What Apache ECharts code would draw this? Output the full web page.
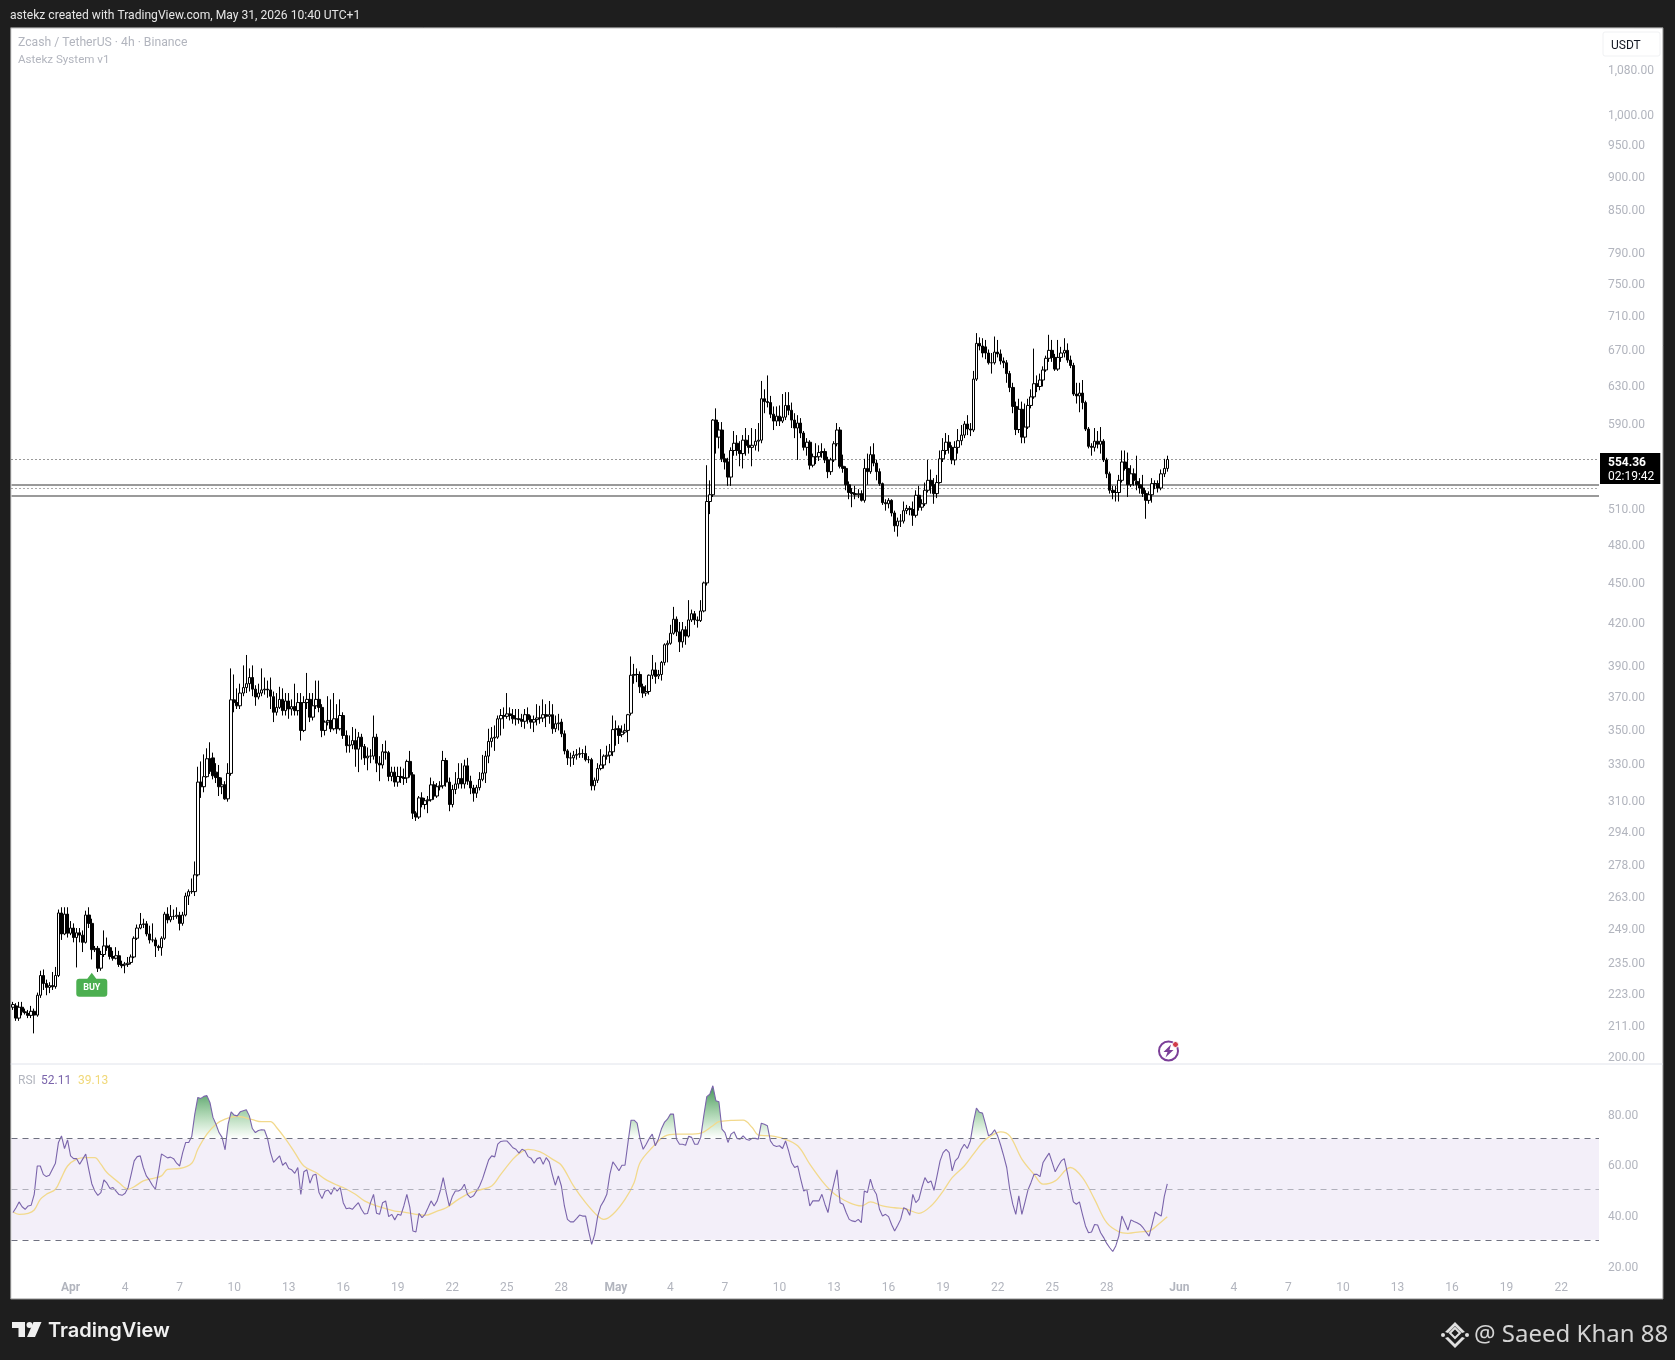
<!DOCTYPE html>
<html>
<head>
<meta charset="utf-8">
<title>Zcash / TetherUS 4h</title>
<script src="https://cdn.jsdelivr.net/npm/echarts@6/dist/echarts.min.js"></script>
<style>html,body{margin:0;padding:0;background:#1e1e1e}#c{width:1675px;height:1360px}</style>
</head>
<body>
<div id="c"></div>
<script>
// 4h candles, each row: open, close, low, high (USDT)
const ohlc = [
[217.5,218.5,216.5,219.5],[218,213.5,212.5,219],[213.5,217.5,212.5,219.5],[217.5,215.8,214.5,219.5],[215.8,215.5,214.8,217],
[215.2,214.5,213.5,216.5],[214.5,216,213.5,218],[216,214.6,208,217],[214.6,222,214,223],[222,229.6,221,231.5],
[229.6,226.5,224,232],[226.5,225,222,228],[225,225.7,222.8,227],[225.7,225.2,224,231],[225.3,229.6,224.5,233],
[229.6,255.5,229,257],[255.5,246.5,244,258],[246.5,255,246,258],[255,246.8,245,258],[246.8,249,246,252],
[249,245,243,251],[245,247,232.8,249],[247,246,243,249],[246,243,239,248],[243,254.6,242.5,256.5],
[254.6,251,249,258],[251,240,236,253],[240,240.5,239,241.5],[240.5,232.5,231,241.5],[232.5,238,231.5,239.5],
[238,241.5,237,248],[241.5,240.8,239.5,245],[240.8,237.2,236,242],[237.2,236.5,235.5,239.5],[236.5,237.5,236,241],
[237.5,234,233,239.5],[234,233.5,232.5,235.5],[233.8,234.2,230.5,235],[234,234.5,233,237],[234.8,237,234,238],
[237,244.7,236.5,245.5],[244.7,249,244,250.5],[249,250.5,248.5,255.5],[250.5,250.8,249,253],[250.8,246.5,245.5,252],
[246.5,244,242.5,250],[244,244,243,251],[244,241.5,237,245],[241.3,240.8,239.5,242],[240.8,244.7,237.5,245.5],
[244.7,255,244,256],[255,252.5,251,258],[252.5,254,251.5,259],[254,254,252.5,257],[254,254.5,253,258],
[254.5,251,248,256],[251,254.6,250,256],[254.6,263,254,264.5],[263,265,259,266],[265,265,264,271],
[265,272.7,263,279],[272.7,319.5,272,328],[319.5,317,311,331],[317,322.5,314,335],[322.5,332.5,322,338.5],
[332.5,325.5,324,342],[333,323,321,336],[325,322,319,330],[322,317,312,329],[317,318,313,322],
[318,310.5,310,320],[310.5,324.3,309,330],[324.3,367.7,323,388],[367.7,366,360,384],[366,364,362,375],
[364,372,362,378],[372,375.5,370,390],[375.5,378,372,397],[378,382,373,388],[382,374.5,370,390],
[374.5,369.5,364,377],[369.5,372,368,378],[372,374,370,388],[374,374.5,371,382],[374.5,374,369,380],
[374,370,362,382],[369.7,360,354,373],[360,363,358,372],[363,368,362,376],[368,361,358,375],
[361,367,358,372],[367,362,356,372],[362,363.5,358,368],[363.5,361,358,378],[361,366,358,372],
[366,349,343,372],[349,366,348,370],[366,368,362,385],[368,357,354,372],[357,364,355,372],
[364,368,362,380],[368,363,360,380],[363,349,345,365],[349,354,346,355],[354,355,352,370],
[355,350,348,368],[350,356,349,372],[356,350,347,365],[350,358,349,368],[358,346,344,360],
[346,340,336,349],[340,340.5,336,346],[340.5,343,338,351],[343,338,328,350],[338,345,325,348],
[345,339.5,332,347],[339.5,333,329,341],[333,334,326,339],[334,334,330,338],[334,345,332,358],
[345,330,325,347],[330,329,320,334],[329,336.5,327,341],[336.5,336,332,343],[336,322.6,320,337],
[322.6,325,320,328],[325,319.5,317,328],[319.5,322.6,317,328],[322.6,322,319,328],[322,321.5,318,327],
[321.8,331,319,332],[331,323.5,322,337],[323.5,303,300,325],[303,301,299,304],[301,311,300,312],
[311,307.5,306,314],[307.5,309.5,305,311],[309.5,310,303,312],[310,318,309,322],[318,312,310,320],
[312,317,311,319],[317,317.5,315,320],[317.5,331.5,316,337],[331.5,319.5,317,333],[319.5,307.5,304,322],
[307.5,315.5,306,318],[315.5,318.5,313,325],[318.5,321.5,316,330],[321.5,318.5,316,330],[318.5,328.5,316,332],
[328.5,320,318,333],[320,316.3,313,323],[316.3,313.5,309,318],[313.5,316.5,311,318],[316.5,321,315,325],
[321,324.5,320,334.7],[324.5,334,319,337],[334,342.5,330,350],[342.5,344.5,339,351],[344.5,345,337,352],
[345,356,344,358],[356,358,346,362],[358,357.5,350,363],[357.5,359,356,372],[359,358,355,363],
[358,356,353,362],[356,356,352,362],[356,355.5,353,362],[355.5,354.5,351,359],[354.5,358.5,350,362],
[358.5,355.5,353,363],[355.5,354,350,358],[354,355.5,348,358],[355.5,356.5,352,365],[356.5,356.5,353,364],
[356.5,358.5,354,368],[358.5,357.5,351,365],[357.5,358.5,353,367],[358.5,350,347,365],[350,353,348,358],
[353,353.5,349,359],[354,347,345,356],[347,337,335,349],[337,333,329,338],[333,333,328,336],
[333,334.5,329,337],[334.5,335,332,338],[335,335.5,333,339],[335.5,335.5,333,338],[335.5,332,331,340],
[332,332,330,334],[332,317.5,315,333],[317.5,320.5,315,322],[320.5,327,319,330],[327,329,326,338],
[329,334,327,335],[334,334.5,332,340],[334.5,336.5,330,341],[336.5,349.5,334,358],[349.5,350,340,355],
[350,346,341,352],[346.5,348,345,352],[348,349,347,353],[349,358.5,342,359],
[359.4,383.5,358,396],[383.5,384,378,391],[384,384,379,388],[384,376,372,386],[376,372,369,378],
[372,373,370,377],[373,383.5,371,384],[383.5,387,381,397],[387,382.7,378,392],[383,384,381,387],
[384,392,380,393],[392,404,390,405],[404,405,392,407],[405,412,404,418],[412,422,411,431],
[422,413,410,424],[413,406,399,420],[406,414.5,402,420],[414.5,410,404,417],[410,421.5,409,436],
[421.5,426,420,429],[426,421.5,418,428],[421.5,421,416,424],[421,428,420,436],[428,449,427,450],
[449,516,447,549],[516,522,505,535],[522,593,520,594],
[593,576,560,605],[576,583,565,591],[583,555,552,591],[555,552,545,560],[552,538,530,556],
[538,563,530,566],[563,570,558,582],[570,563,558,578],[563,560,548,572],[560,573,546,578],
[573,568,558,585],[568,566,560,578],[566,568,548,585],[568,572,563,584],[572,573,562,590],
[573,615,570,634],[615,612,600,625],[612,611,606,640],[611,599,595,618],[599,592,583,607],
[592,597,587,607],[597,592,587,608],[592,596,590,620],[596,608,593,622],[608,603,598,622],
[603,593,585,611],[593,585,575,600],[585,590,554,598],[590,580,575,595],[580,566,563,582],
[566,571,558,575],[571,549,545,573],[549,557,547,560],[557,557,550,570],[557,561,553,568],
[561,562,556,570],[562,554,551,565],[554,543,537,557],[543,554,540,556],[554,569.5,552,572],
[569.5,583,567,590],[583,548,546,586],[548,546,542,559],[546,531,526,548],[531,524,518,534],
[524,523,511,528],[523,522,518,530],[522,523,519,527],[523,517,516,526],[517,546,515,555],
[546,543,531,560],[543,559,541,567],[559,551,548,570],[551,543,535,554],[543,532,530,546],
[532,515,513,533],[515,514,508,518],[514,517,510,519],[517,506,503,518],[506,495,490,508],
[495,499,486,502],[499,499,494,505],[499,508,497,516],[508,510,505,513],[510,509,504,512],
[509,504,495,516],[504,521.5,502,526],[521.5,511,508,530],[511,514,508,518],[514,526,512,533],
[526,535,524,554],[535,530,523,545],[531,523,514,537],[523,533,519,540],
[533,555,532,563],[555,563,552,575],[563,571,559,580],[571,566,560,578],[566,554,550,568],
[554,566,549,572],[566,572.5,560,584],[572.5,578,568,588],[578,589,575,592],[589,584,578,598],
[584,583,577,590],[583,636,581,645],[636,676,634,688],[676,673,668,683],[673,665,660,682],
[672,665,658,680],[665,654,652,669],[654,654,642,665],[654,666,652,684],[666,664,660,680],
[664,656,652,669],[656,654,648,660],[654,642,632,657],[642,627,622,645],[627,607,600,632],
[607,583.5,578,612],[583.5,604,580,615],[604,576,570,612],[576,586,570,610],[586,608,584,615],
[608,617,605,625],[617,631,615,670],[631,628,622,640],[628,635,624,642],[635,646,628,650],
[646,659,644,662],[659,668,655,686],[668,660,655,680],[660,647,645,664],[647,660,645,680],
[660,665,655,672],[665,668,660,682],[668,657,654,676],[657,651,648,662],[651,620,618,654],
[620,618,610,632],[618,621,601,632],[621,611,604,635],[611,584,582,613],[584,567,565,586],
[567,566,558,570],[566,572,562,585],[572,569,565,582],[569,572,560,586],[572,554,552,574],
[554,541,537,556],[541,526,523,543],[526,524,518,530],[524,524,516,530],[524,535,516,540],
[535,552,533,563],[552,546,544,563],[546,531,520,561],[531,541,529,549],[541,535,530,546],
[534,531,526,558],[531,528,523,537],[528,523,520,540],[523,517,501,526],[517,522,514,525],
[522,532,515,537],[532,532,527,535],[532,528,524,535],[528,541,526,545],[541,546,538,555],[546,554.36,543,558]
];

// RSI (14) per bar, then its smoothing line read at [bar, value] points
const rsiValues = [
40.8,42.7,45,43.1,42.1,43.4,43.7,48,59.2,59.2,55.9,55,55.5,57.9,60.3,68.5,71.1,66.1,69.5,63.2,
62.1,62.1,59.9,61.9,63.9,57.9,52.2,49.3,47.6,48.7,53.7,52.4,50.3,50.7,49.3,47.9,47.6,48.4,50.7,55.9,
61.2,62.9,63.2,58.6,55.3,53.7,51.6,50,56.6,63.9,63.2,62.4,62.7,62.1,60.3,59.2,64.5,68.5,68.5,70.9,
79.7,86.3,85.9,86.7,87,84.3,78.4,75.7,72.4,70.5,65.6,75.7,80.6,79.3,79,80.6,81,81.4,79,74,
72.4,73.2,73.5,73.4,70.1,64.5,60.6,61.9,63.2,59.5,60.6,58.2,57.7,56.3,58.6,48,56.9,57.7,52.4,55.5,
55.9,48.7,46.3,49.2,49.7,48,50.7,49.3,50.7,44.7,42.3,42.6,42.1,43.4,44.7,42.1,40.2,40.4,44.7,48,
40.5,40.1,44.7,45.4,39.2,40.1,37.9,40.1,39.7,43.4,48,42.7,33.5,33.1,40.5,38.8,40.1,42.7,45.4,43.4,
45.4,49.3,54.6,48.7,43.4,47.1,49.3,49.3,50,52,48,46.7,47.4,49.3,51.3,54.2,57.9,61.6,63.2,62.8,
67.8,68.9,69.1,69.1,67.8,66.4,65.8,64.3,65.8,65.2,62.9,62.3,60.3,62.1,62.5,59.9,62.5,60.8,55.9,51.6,55.3,
51.3,43.4,38.1,37.1,37.1,38.4,39.8,39.4,39.4,33.5,
28.2,32.2,39.4,43.4,45.4,48,55.9,60.8,59.2,57.3,59.5,59.5,68.5,77.3,77.3,76.1,69.8,65.8,67.8,70.1,
71.8,67.2,69.8,73.8,76.4,77.7,79.7,79.7,69.8,67.8,67.8,67.4,70.9,70.5,67.8,67.8,70.5,79,86.6,87.6,
90.9,85,84.6,73.8,72.4,68.5,71.8,72.7,70.1,69.8,71.1,69.8,69.4,70.1,70.1,69.8,76.1,75.7,75.1,69.1,
67.4,66.9,67.2,66.1,69.1,65.2,60.6,58.6,59.2,54,49.3,50,43.4,45.4,45.4,45.4,48,44.1,40.8,47.4,
52.6,57.7,44.7,44.1,40.8,38.1,37.5,37.2,38.1,36.8,49.3,48.7,54,50,48,42.1,39.4,40.1,39.2,36.1,
33.5,35.7,38.1,42.7,42.1,39.7,48,44.7,46,50.7,54.6,52.6,53.3,49.6,55.3,61.2,64.5,65.8,64.5,57.3,
61.2,62.5,65.8,67.8,66.1,69.1,76.4,82.1,80.4,80.1,75.7,71.1,71.8,73.5,71.1,67.4,63.2,58.6,50,44.1,
40.1,47.4,40.1,44.7,49.7,52.6,55.9,55.9,55,60.6,62.5,64.3,60.6,56.9,59.2,61.2,62.1,56.6,50.7,45,
44.1,45,40.1,35.5,32.8,33.1,36.1,35.9,32.8,30.9,28.6,26.9,25.4,27.6,31.5,39.4,36.8,33.9,37.9,37.3,
36.8,36.1,34.8,33.1,31.5,36.1,41,40.1,39.4,47.1,52.11
];
const rsiMa = [
[0,41],[2,40.1],[5,40.5],[7,41.8],[9,46],[11,48],[14,50],[16,54.6],[18,59.2],[21,61.9],[24,62.5],[27,62.5],[29,59.9],[31,56.6],[35,52.6],[38,50],
[40,51],[43,53.3],[46,54.2],[49,55.3],[51,57.9],[55,58.2],[59,60.3],[61,65.8],[64,71.8],[67,75.7],[70,77.7],[74,78.8],[79,77.5],[82,76.7],[85,76.7],
[87,74.4],[90,69.8],[93,64.5],[96,59.2],[100,56.6],[103,54],[107,51.6],[109,50.7],[113,48],[116,45.4],[120,43.4],[126,41.4],[129,41],[133,40.1],[136,39.7],
[140,41.4],[143,42.7],[147,46],[151,48.7],[154,49.7],[158,51.3],[161,55.9],[165,61.9],[167,64.1],[170,65.8],[174,64.8],[178,61.9],[181,59.5],
[185,51.3],[189,44.7],[193,39.4],[195,38.1],[198,40.1],[202,46],[205,52.6],[207,60.6],[211,66.5],[215,70.9],[219,71.8],[223,71.8],[227,72.2],[231,75.1],
[233,76.7],[237,77.2],[241,77.3],[244,74.4],[246,71.4],[250,71.1],[254,70.1],[259,67.2],[263,59.9],[267,53.3],[270,49.3],[272,47.4],[276,44.7],[280,43.4],
[283,45],[287,43.4],[291,42.7],[295,42.1],[299,40.5],[303,43.4],[307,49.3],[310,54.6],[314,59.2],[317,63.9],[320,68.5],[322,70.5],[326,72.7],[329,71.1],
[333,61.9],[337,55.9],[340,52],[344,53.3],[349,58.6],[353,54.6],[357,46],[361,36.8],[365,33.2],[368,32.6],[372,33.2],[375,33.5],[378,36.1],[381,39.13]
];

// price axis and RSI axis labels, horizontal levels
const priceTicks = [200,211,223,235,249,263,278,294,310,330,350,370,390,420,450,480,510,590,630,670,710,750,790,850,900,950,1000,1080];
const rsiTicks = [20,40,60,80];
const lastPrice = 554.36;
const solidLevels = [531,521.2];
const dottedLevels = [528];
const rsiBands = [70,50,30];

// time axis: slot number of each label (4h slots starting Mar 28 20:00)
const slotCount = 524;
const timeTickSlots = [19,37,55,73,91,109,127,145,163,181,199,217,235,253,271,289,307,325,343,361,385,403,421,439,457,475,493,511];
const timeTickText = ['Apr','4','7','10','13','16','19','22','25','28','May','4','7','10','13','16','19','22','25','28','Jun','4','7','10','13','16','19','22'];
const slots = Array.from({length: slotCount}, (_, i) => String(i));

const PL = 10.7, PR = 1663, PT = 27.8, PB = 1299, SCALE_X = 1599, MAIN_B = 1064, RSI_B = 1271;
const CHART_L = 11.5;
const axisGrey = '#b2b5be';
const fontFam = 'Roboto, sans-serif';

function priceFmt(v){
  const n = Math.round(v);
  return '{a|' + n.toLocaleString('en-US',{minimumFractionDigits:2,maximumFractionDigits:2}) + '}';
}

const chart = echarts.init(document.getElementById('c'), null, {renderer:'canvas'});
chart.setOption({
  animation:false,
  backgroundColor:'#1e1e1e',
  textStyle:{fontFamily:fontFam},
  grid:[
    {left:CHART_L, top:PT, width:SCALE_X-CHART_L, height:MAIN_B-PT},
    {left:CHART_L, top:MAIN_B, width:SCALE_X-CHART_L, height:RSI_B-MAIN_B}
  ],
  xAxis:[
    {type:'category', gridIndex:0, data:slots, boundaryGap:true,
     axisLine:{show:false}, axisTick:{show:false}, axisLabel:{show:false}, splitLine:{show:false}},
    {type:'category', gridIndex:1, data:slots, boundaryGap:true,
     axisLine:{show:false}, axisTick:{show:false}, splitLine:{show:false},
     axisLabel:{show:true, margin:11, color:axisGrey, fontSize:12, hideOverlap:false,
       interval:function(i){return timeTickSlots.indexOf(i)>=0;},
       formatter:function(v,i){
         const t = timeTickText[timeTickSlots.indexOf(Number(v))] || '';
         return /[A-Za-z]/.test(t) ? '{m|'+t+'}' : t;
       },
       rich:{m:{color:axisGrey,fontSize:12,fontWeight:'bold'}}
     }}
  ],
  yAxis:[
    {type:'log', logBase:10, gridIndex:0, position:'right', min:197.4, max:1159, scale:true,
     axisLine:{show:false}, axisTick:{show:false}, splitLine:{show:false}, minorTick:{show:false}, minorSplitLine:{show:false},
     axisLabel:{show:true, inside:false, margin:9, color:axisGrey, fontSize:12, customValues:priceTicks, formatter:priceFmt, showMinLabel:true, showMaxLabel:true,
       rich:{a:{color:axisGrey,fontSize:12,lineHeight:14,padding:[4,0,0,0]}}}},
    {type:'value', gridIndex:1, position:'right', min:17.7, max:99.5,
     axisLine:{show:false}, axisTick:{show:false}, splitLine:{show:false},
     axisLabel:{show:true, margin:9, color:axisGrey, fontSize:12, customValues:rsiTicks, formatter:function(v){return '{a|'+v.toFixed(2)+'}';},
       rich:{a:{color:axisGrey,fontSize:12,lineHeight:14,padding:[5,0,0,0]}}}}
  ],
  series:[
    {type:'candlestick', name:'ZECUSDT', xAxisIndex:0, yAxisIndex:0, data:ohlc, barWidth:3, z:3,
     itemStyle:{color:'#ffffff', color0:'#000000', borderColor:'#000000', borderColor0:'#000000', borderWidth:1},
     markLine:{silent:true, symbol:'none', z:1, animation:false,
       data:[
         ...solidLevels.map(v=>({yAxis:v, lineStyle:{color:'#9a9a9a', width:2, type:'solid'}, label:{show:false}})),
         ...dottedLevels.map(v=>({yAxis:v, lineStyle:{color:'#555555', width:1, type:[1,3]}, label:{show:false}})),
         {yAxis:lastPrice, lineStyle:{color:'#333333', width:1, type:[1,3]},
          label:{show:true, position:'end', distance:1, formatter:'{p|'+lastPrice.toFixed(2)+'}\n{t|02:19:42}',
            backgroundColor:'#000000', padding:[3,6,0,8], offset:[0,9], align:'left',
            rich:{p:{color:'#ffffff',fontSize:12,fontWeight:'bold',lineHeight:14,fontFamily:fontFam},
                  t:{color:'#ffffff',fontSize:12,lineHeight:14,fontFamily:fontFam}}}}
       ]},
     markPoint:{silent:true, animation:false,
       data:[{coord:[26,230.7], value:'BUY',
         symbol:'path://M15.5,0 L20,6 L28,6 Q31,6 31,9 L31,21 Q31,24 28,24 L3,24 Q0,24 0,21 L0,9 Q0,6 3,6 L11,6 Z',
         symbolSize:[31,24], symbolOffset:[0,12], symbolKeepAspect:false,
         itemStyle:{color:'#4caf50'},
         label:{show:true, formatter:'BUY', position:'inside', offset:[0,3], color:'#ffffff', fontSize:9, fontWeight:'bold', fontFamily:fontFam}}]}
    },
    {type:'line', name:'RSI zone', xAxisIndex:1, yAxisIndex:1, data:rsiValues.map(v=>Math.max(v,70)), showSymbol:false, symbol:'none', silent:true, z:2,
     lineStyle:{width:0},
     areaStyle:{origin:70, opacity:1,
       color:{type:'linear',x:0,y:0,x2:0,y2:1,colorStops:[{offset:0,color:'rgba(56,142,80,0.95)'},{offset:1,color:'rgba(76,175,80,0)'}]}}},
    {type:'line', name:'RSI', xAxisIndex:1, yAxisIndex:1, data:rsiValues, showSymbol:false, symbol:'none', silent:true, z:4,
     lineStyle:{color:'#7a64ab', width:1.1},
     markArea:{silent:true, itemStyle:{color:'rgba(126,87,194,0.095)'}, data:[[{yAxis:rsiBands[2]},{yAxis:rsiBands[0]}]]},
     markLine:{silent:true, symbol:'none', animation:false, label:{show:false},
       data:[
         {yAxis:rsiBands[0], lineStyle:{color:'#6f7180', width:1, type:[6,5]}},
         {yAxis:rsiBands[1], lineStyle:{color:'#b0b0bb', width:1, type:[6,5]}},
         {yAxis:rsiBands[2], lineStyle:{color:'#6f7180', width:1, type:[6,5]}}
       ]}},
    {type:'line', name:'RSI MA', xAxisIndex:1, yAxisIndex:1, data:rsiMa, showSymbol:false, symbol:'none', silent:true, z:3, smooth:0.35,
     lineStyle:{color:'#f2d98c', width:1.3}}
  ],
  graphic:[
    {type:'rect', z:-10, silent:true, shape:{x:PL,y:PT,width:PR-PL,height:PB-PT}, style:{fill:'#ffffff', stroke:'#8d8d8d', lineWidth:1}},
    {type:'line', z:-9, silent:true, shape:{x1:PL,y1:MAIN_B,x2:PR,y2:MAIN_B}, style:{stroke:'#e0e3eb', lineWidth:1}},
    {type:'text', silent:true, style:{x:10,y:16,text:'astekz created with TradingView.com, May 31, 2026 10:40 UTC+1',fill:'#e6e6e6',font:'12.1px '+fontFam,textVerticalAlign:'middle'}},
    {type:'text', silent:true, style:{x:18,y:43,text:'Zcash / TetherUS · 4h · Binance',fill:axisGrey,font:'12.2px '+fontFam,textVerticalAlign:'middle'}},
    {type:'text', silent:true, style:{x:18,y:60,text:'Astekz System v1',fill:axisGrey,font:'11.6px '+fontFam,textVerticalAlign:'middle'}},
    {type:'text', silent:true, style:{x:18,y:1081,text:'RSI',fill:axisGrey,font:'12px '+fontFam,textVerticalAlign:'middle'}},
    {type:'text', silent:true, style:{x:41,y:1081,text:'52.11',fill:'#7a64ab',font:'12px '+fontFam,textVerticalAlign:'middle'}},
    {type:'text', silent:true, style:{x:78,y:1081,text:'39.13',fill:'#f0d878',font:'12px '+fontFam,textVerticalAlign:'middle'}},
    {type:'rect', silent:true, shape:{x:1603,y:32,width:57,height:24,r:2}, style:{fill:'#ffffff',stroke:'#f0f1f3',lineWidth:1}},
    {type:'text', silent:true, style:{x:1611,y:45.5,text:'USDT',fill:'#131722',font:'12px '+fontFam,textVerticalAlign:'middle'}},
    // lightning badge
    {type:'circle', silent:true, shape:{cx:1168.5,cy:1051,r:9.5}, style:{fill:'#ffffff',stroke:'#7b3f98',lineWidth:2}},
    {type:'polygon', silent:true, shape:{points:[[1171,1044.5],[1163.5,1052],[1167.5,1052],[1165.5,1057.5],[1173.5,1050],[1169.5,1050]]}, style:{fill:'#7b3f98'}},
    {type:'circle', silent:true, shape:{cx:1175.5,cy:1044.5,r:3}, style:{fill:'#d23b4a',stroke:'#ffffff',lineWidth:1}},
    // TradingView logo
    {type:'polygon', silent:true, shape:{points:[[12,1322],[25,1322],[25,1337],[18.5,1337],[18.5,1328],[12,1328]]}, style:{fill:'#f0f0f0'}},
    {type:'circle', silent:true, shape:{cx:29.5,cy:1325,r:3}, style:{fill:'#f0f0f0'}},
    {type:'polygon', silent:true, shape:{points:[[33.5,1322],[41.5,1322],[35,1337],[27,1337]]}, style:{fill:'#f0f0f0'}},
    {type:'text', silent:true, style:{x:48,y:1331,text:'TradingView',fill:'#f0f0f0',font:'600 20px Inter, sans-serif',textVerticalAlign:'middle'}},
    // Binance-like mark and author
    {type:'polygon', silent:true, shape:{points:[[1455,1328],[1460,1333],[1455,1338],[1450,1333]]}, style:{fill:'none',stroke:'#e0e0e0',lineWidth:2}},
    {type:'polygon', silent:true, shape:{points:[[1455,1322],[1465,1332],[1462,1333],[1455,1326],[1448,1333],[1445,1332]]}, style:{fill:'#e0e0e0'}},
    {type:'polygon', silent:true, shape:{points:[[1455,1348],[1465,1338],[1462,1337],[1455,1344],[1448,1337],[1445,1338]]}, style:{fill:'#e0e0e0'}},
    {type:'circle', silent:true, shape:{cx:1443,cy:1335,r:2}, style:{fill:'#e0e0e0'}},
    {type:'circle', silent:true, shape:{cx:1467,cy:1335,r:2}, style:{fill:'#e0e0e0'}},
    {type:'text', silent:true, style:{x:1474,y:1335,text:'@ Saeed Khan 88',fill:'#d4d4d4',font:'24px "Noto Sans", sans-serif',textVerticalAlign:'middle'}}
  ]
});
</script>
</body>
</html>
